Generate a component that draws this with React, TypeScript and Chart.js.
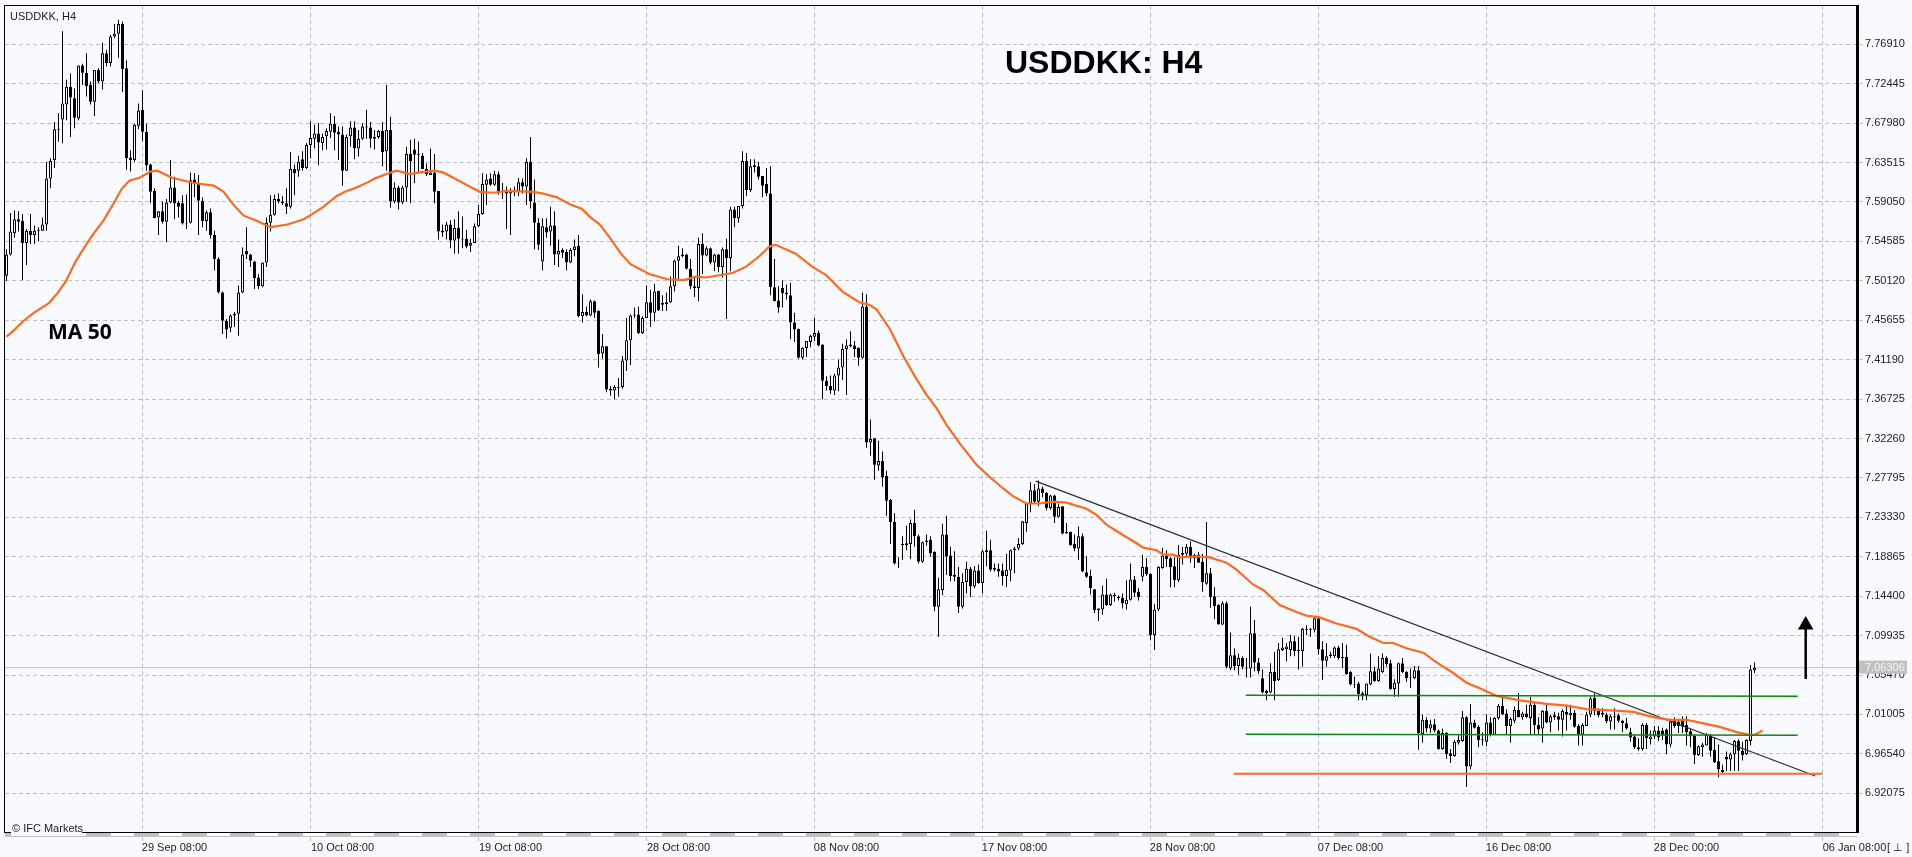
import { useEffect, useRef } from 'react';
import Chart from 'chart.js/auto';

// H4 candles, oldest first
const opens = [
  7.507,7.531,7.555,7.571,7.569,7.544,7.558,7.553,7.559,7.558,
  7.565,7.617,7.638,7.673,7.684,7.701,7.721,7.708,7.685,7.745,
  7.737,7.723,7.704,7.740,7.727,7.759,7.748,7.778,7.781,7.792,
  7.742,7.641,7.638,7.677,7.695,7.670,7.633,7.603,7.573,7.580,
  7.568,7.590,7.607,7.590,7.589,7.567,7.567,7.616,7.611,7.592,
  7.569,7.579,7.553,7.526,7.488,7.456,7.448,7.462,7.464,7.488,
  7.535,7.531,7.523,7.505,7.495,7.522,7.567,7.576,7.594,7.591,
  7.589,7.585,7.628,7.626,7.639,7.629,7.655,7.662,7.668,7.657,
  7.665,7.670,7.679,7.670,7.667,7.626,7.665,7.675,7.651,7.662,
  7.676,7.675,7.664,7.664,7.671,7.648,7.672,7.591,7.607,7.590,
  7.607,7.645,7.650,7.645,7.643,7.628,7.621,7.624,7.603,7.558,
  7.557,7.565,7.547,7.561,7.549,7.549,7.541,7.544,7.563,7.577,
  7.610,7.617,7.610,7.622,7.603,7.603,7.600,7.603,7.602,7.613,
  7.608,7.636,7.590,7.567,7.523,7.562,7.557,7.564,7.531,7.536,
  7.534,7.522,7.536,7.541,7.461,7.466,7.462,7.478,7.467,7.419,
  7.427,7.379,7.377,7.380,7.381,7.411,7.434,7.462,7.463,7.442,
  7.459,7.477,7.465,7.490,7.476,7.475,7.477,7.495,7.524,7.529,
  7.531,7.515,7.495,7.493,7.543,7.530,7.538,7.522,7.531,7.517,
  7.537,7.527,7.582,7.572,7.586,7.637,7.604,7.632,7.631,7.620,
  7.611,7.600,7.494,7.479,7.493,7.488,7.485,7.454,7.447,7.414,
  7.425,7.432,7.438,7.442,7.429,7.388,7.382,7.377,7.394,7.403,
  7.424,7.429,7.428,7.425,7.414,7.472,7.318,7.323,7.292,7.297,
  7.280,7.253,7.228,7.182,7.203,7.202,7.203,7.227,7.212,7.183,
  7.205,7.208,7.194,7.132,7.151,7.214,7.190,7.168,7.166,7.132,
  7.160,7.175,7.155,7.173,7.159,7.196,7.196,7.176,7.175,7.173,
  7.167,7.173,7.196,7.198,7.203,7.227,7.249,7.264,7.251,7.266,
  7.261,7.244,7.258,7.234,7.246,7.217,7.217,7.203,7.198,7.212,
  7.171,7.167,7.152,7.130,7.129,7.146,7.134,7.146,7.143,7.142,
  7.135,7.140,7.163,7.149,7.166,7.177,7.169,7.100,7.129,7.176,
  7.190,7.187,7.178,7.162,7.191,7.192,7.200,7.191,7.191,7.183,
  7.158,7.170,7.144,7.134,7.112,7.136,7.062,7.077,7.065,7.074,
  7.063,7.062,7.102,7.069,7.051,7.037,7.035,7.058,7.049,7.083,
  7.084,7.083,7.093,7.083,7.082,7.107,7.107,7.106,7.119,7.084,
  7.071,7.076,7.076,7.086,7.075,7.075,7.058,7.044,7.045,7.034,
  7.032,7.044,7.059,7.048,7.058,7.074,7.068,7.039,7.045,7.068,
  7.058,7.052,7.051,7.060,6.988,7.004,6.994,6.999,6.992,6.971,
  6.989,6.966,6.963,6.978,6.980,7.007,6.951,7.001,6.996,6.982,
  6.979,7.001,6.987,7.006,7.020,7.011,6.997,7.003,7.015,7.007,
  7.011,7.006,7.021,6.998,6.994,7.014,7.001,7.007,7.008,7.004,
  7.013,7.009,7.012,6.997,6.987,6.997,7.010,7.029,7.014,7.012,
  7.010,7.002,7.008,7.009,7.003,7.000,6.990,6.985,6.973,6.971,
  6.998,6.982,6.985,6.992,6.992,6.993,6.976,7.003,7.002,7.003,
  6.998,6.991,6.986,6.964,6.973,6.975,6.986,6.970,6.957,6.947,
  6.962,6.959,6.965,6.980,6.969,6.965,6.980,7.060,
];

const highs = [
  7.537,7.578,7.581,7.580,7.577,7.560,7.577,7.564,7.562,7.573,
  7.636,7.640,7.681,7.691,7.784,7.729,7.736,7.719,7.745,7.747,
  7.759,7.727,7.740,7.742,7.771,7.763,7.780,7.792,7.797,7.795,
  7.751,7.649,7.679,7.702,7.717,7.679,7.634,7.606,7.580,7.591,
  7.594,7.638,7.619,7.592,7.598,7.599,7.624,7.623,7.621,7.596,
  7.581,7.583,7.558,7.528,7.489,7.458,7.463,7.466,7.496,7.539,
  7.562,7.532,7.524,7.509,7.522,7.573,7.598,7.599,7.600,7.597,
  7.606,7.647,7.633,7.643,7.648,7.657,7.682,7.678,7.680,7.668,
  7.674,7.691,7.688,7.676,7.676,7.667,7.682,7.682,7.672,7.680,
  7.695,7.681,7.672,7.672,7.681,7.723,7.687,7.613,7.609,7.609,
  7.653,7.661,7.662,7.659,7.646,7.634,7.651,7.645,7.603,7.565,
  7.568,7.570,7.571,7.580,7.574,7.559,7.549,7.566,7.587,7.623,
  7.622,7.623,7.626,7.625,7.612,7.608,7.606,7.608,7.618,7.617,
  7.640,7.664,7.616,7.572,7.572,7.572,7.585,7.580,7.548,7.538,
  7.537,7.538,7.548,7.553,7.486,7.472,7.480,7.479,7.468,7.441,
  7.427,7.382,7.383,7.391,7.416,7.459,7.463,7.471,7.472,7.461,
  7.496,7.491,7.498,7.490,7.485,7.488,7.506,7.525,7.541,7.538,
  7.532,7.526,7.506,7.550,7.555,7.540,7.539,7.532,7.532,7.539,
  7.549,7.585,7.585,7.586,7.648,7.646,7.639,7.639,7.636,7.620,
  7.629,7.631,7.526,7.495,7.502,7.497,7.499,7.465,7.447,7.426,
  7.433,7.440,7.459,7.445,7.429,7.393,7.394,7.396,7.412,7.430,
  7.435,7.444,7.433,7.426,7.488,7.486,7.344,7.323,7.320,7.308,
  7.286,7.254,7.238,7.188,7.212,7.224,7.231,7.242,7.214,7.206,
  7.214,7.212,7.195,7.165,7.226,7.235,7.200,7.195,7.177,7.170,
  7.183,7.177,7.178,7.180,7.197,7.218,7.208,7.181,7.181,7.181,
  7.192,7.197,7.200,7.210,7.229,7.249,7.273,7.271,7.275,7.268,
  7.262,7.259,7.259,7.249,7.246,7.227,7.217,7.214,7.223,7.215,
  7.189,7.174,7.152,7.130,7.156,7.164,7.147,7.148,7.145,7.147,
  7.162,7.181,7.167,7.153,7.191,7.187,7.170,7.135,7.178,7.199,
  7.196,7.188,7.188,7.202,7.200,7.203,7.206,7.192,7.194,7.192,
  7.228,7.176,7.154,7.135,7.138,7.138,7.103,7.085,7.079,7.076,
  7.074,7.132,7.117,7.074,7.061,7.038,7.068,7.081,7.091,7.097,
  7.091,7.100,7.099,7.098,7.108,7.111,7.108,7.120,7.121,7.093,
  7.091,7.081,7.087,7.088,7.091,7.089,7.059,7.053,7.047,7.036,
  7.045,7.079,7.064,7.076,7.079,7.076,7.072,7.050,7.069,7.074,
  7.059,7.062,7.065,7.065,7.010,7.007,7.004,7.005,6.993,6.994,
  6.990,6.971,6.981,6.987,7.014,7.008,7.022,7.004,6.998,6.990,
  7.010,7.007,7.007,7.022,7.029,7.016,7.007,7.019,7.034,7.013,
  7.021,7.030,7.023,7.007,7.015,7.021,7.010,7.013,7.012,7.016,
  7.021,7.021,7.015,6.999,7.000,7.013,7.030,7.034,7.017,7.017,
  7.012,7.010,7.017,7.011,7.004,7.006,6.995,6.987,6.983,7.000,
  7.000,6.992,6.997,6.997,6.995,6.994,7.005,7.007,7.005,7.008,
  7.008,6.994,6.987,6.975,6.978,6.989,6.988,6.984,6.976,6.953,
  6.968,6.967,6.981,6.982,6.979,6.982,7.066,7.069,
];

const lows = [
  7.501,7.530,7.550,7.557,7.502,7.519,7.543,7.543,7.546,7.558,
  7.558,7.606,7.629,7.659,7.657,7.683,7.664,7.674,7.683,7.723,
  7.710,7.701,7.688,7.725,7.718,7.744,7.744,7.776,7.754,7.715,
  7.627,7.625,7.636,7.673,7.660,7.626,7.589,7.572,7.553,7.566,
  7.545,7.589,7.571,7.573,7.565,7.560,7.566,7.596,7.553,7.562,
  7.558,7.549,7.513,7.487,7.441,7.436,7.443,7.449,7.439,7.487,
  7.526,7.517,7.492,7.492,7.494,7.517,7.557,7.575,7.589,7.587,
  7.577,7.583,7.598,7.619,7.626,7.628,7.640,7.651,7.632,7.649,
  7.650,7.663,7.649,7.638,7.609,7.626,7.653,7.639,7.642,7.661,
  7.662,7.652,7.650,7.662,7.631,7.626,7.584,7.589,7.582,7.588,
  7.591,7.589,7.612,7.623,7.628,7.620,7.621,7.589,7.548,7.551,
  7.548,7.538,7.532,7.532,7.538,7.538,7.534,7.544,7.562,7.576,
  7.587,7.609,7.609,7.599,7.594,7.560,7.553,7.597,7.597,7.600,
  7.587,7.583,7.537,7.536,7.513,7.550,7.541,7.519,7.517,7.527,
  7.513,7.521,7.529,7.460,7.454,7.461,7.461,7.459,7.403,7.413,
  7.375,7.371,7.367,7.370,7.379,7.399,7.406,7.459,7.441,7.441,
  7.459,7.449,7.455,7.467,7.467,7.467,7.476,7.489,7.502,7.528,
  7.514,7.492,7.483,7.478,7.509,7.529,7.520,7.512,7.511,7.505,
  7.458,7.512,7.562,7.567,7.583,7.597,7.602,7.624,7.616,7.596,
  7.597,7.485,7.478,7.465,7.471,7.480,7.435,7.432,7.413,7.412,
  7.415,7.426,7.433,7.427,7.367,7.377,7.373,7.372,7.376,7.389,
  7.372,7.426,7.415,7.405,7.413,7.312,7.303,7.276,7.286,7.268,
  7.235,7.203,7.180,7.176,7.185,7.196,7.186,7.200,7.181,7.182,
  7.201,7.189,7.127,7.098,7.145,7.168,7.161,7.161,7.125,7.130,
  7.147,7.143,7.153,7.158,7.147,7.178,7.172,7.172,7.166,7.156,
  7.154,7.161,7.170,7.196,7.202,7.217,7.239,7.249,7.246,7.256,
  7.241,7.242,7.227,7.233,7.214,7.215,7.201,7.195,7.185,7.171,
  7.165,7.146,7.125,7.116,7.123,7.133,7.133,7.138,7.139,7.130,
  7.129,7.139,7.143,7.139,7.161,7.167,7.094,7.083,7.127,7.175,
  7.177,7.154,7.154,7.160,7.180,7.188,7.182,7.176,7.182,7.149,
  7.157,7.131,7.118,7.112,7.111,7.062,7.060,7.060,7.055,7.061,
  7.052,7.052,7.059,7.056,7.034,7.026,7.034,7.026,7.048,7.082,
  7.070,7.076,7.076,7.061,7.064,7.100,7.098,7.103,7.078,7.049,
  7.064,7.074,7.074,7.072,7.063,7.055,7.043,7.040,7.026,7.026,
  7.026,7.043,7.047,7.047,7.057,7.064,7.038,7.030,7.030,7.057,
  7.047,7.040,7.050,6.970,6.978,6.990,6.989,6.990,6.970,6.970,
  6.960,6.955,6.962,6.976,6.979,6.928,6.948,6.994,6.973,6.975,
  6.974,6.985,6.987,7.004,7.009,6.987,6.978,7.000,7.007,7.004,
  7.006,6.987,6.987,6.987,6.978,7.000,6.990,7.004,6.992,6.985,
  6.992,7.004,6.995,6.975,6.975,6.997,7.007,7.009,7.007,7.007,
  7.000,6.993,6.993,7.001,6.990,6.993,6.979,6.971,6.969,6.969,
  6.971,6.976,6.982,6.980,6.981,6.965,6.973,6.995,6.989,6.989,
  6.975,6.973,6.954,6.963,6.962,6.975,6.962,6.955,6.939,6.943,
  6.946,6.946,6.946,6.946,6.958,6.964,6.975,7.057,
];

const closes = [
  7.531,7.557,7.571,7.568,7.544,7.558,7.553,7.558,7.558,7.565,
  7.617,7.637,7.673,7.672,7.702,7.721,7.709,7.686,7.745,7.737,
  7.722,7.704,7.740,7.727,7.759,7.748,7.778,7.781,7.792,7.741,
  7.640,7.638,7.678,7.694,7.670,7.632,7.602,7.572,7.580,7.568,
  7.590,7.607,7.589,7.585,7.566,7.566,7.615,7.611,7.592,7.569,
  7.579,7.553,7.526,7.488,7.456,7.446,7.462,7.464,7.488,7.531,
  7.531,7.524,7.504,7.495,7.522,7.567,7.576,7.594,7.591,7.589,
  7.585,7.628,7.623,7.636,7.629,7.655,7.663,7.668,7.658,7.664,
  7.671,7.679,7.669,7.667,7.626,7.664,7.675,7.651,7.662,7.676,
  7.675,7.662,7.662,7.671,7.647,7.672,7.591,7.607,7.590,7.607,
  7.645,7.637,7.644,7.644,7.628,7.622,7.624,7.602,7.557,7.556,
  7.565,7.547,7.561,7.549,7.548,7.540,7.544,7.563,7.577,7.611,
  7.616,7.610,7.622,7.603,7.603,7.600,7.603,7.602,7.613,7.608,
  7.636,7.591,7.567,7.542,7.563,7.556,7.564,7.531,7.535,7.533,
  7.522,7.536,7.540,7.461,7.466,7.462,7.478,7.465,7.418,7.427,
  7.378,7.377,7.381,7.381,7.411,7.434,7.462,7.463,7.442,7.459,
  7.477,7.465,7.489,7.468,7.474,7.477,7.495,7.524,7.529,7.531,
  7.515,7.495,7.493,7.543,7.530,7.538,7.522,7.531,7.517,7.537,
  7.527,7.582,7.572,7.586,7.637,7.604,7.631,7.630,7.619,7.609,
  7.600,7.494,7.478,7.471,7.487,7.486,7.454,7.446,7.414,7.425,
  7.433,7.439,7.442,7.428,7.388,7.382,7.377,7.394,7.403,7.424,
  7.428,7.427,7.424,7.414,7.472,7.318,7.322,7.293,7.297,7.279,
  7.252,7.228,7.181,7.181,7.202,7.204,7.227,7.212,7.183,7.205,
  7.207,7.193,7.132,7.152,7.214,7.189,7.167,7.166,7.132,7.160,
  7.175,7.155,7.173,7.159,7.195,7.194,7.174,7.174,7.172,7.167,
  7.174,7.196,7.198,7.203,7.229,7.249,7.264,7.251,7.266,7.261,
  7.244,7.258,7.234,7.245,7.215,7.215,7.202,7.198,7.212,7.172,
  7.166,7.153,7.128,7.128,7.146,7.134,7.146,7.144,7.142,7.136,
  7.140,7.163,7.148,7.143,7.177,7.169,7.100,7.129,7.177,7.190,
  7.186,7.177,7.162,7.191,7.193,7.200,7.187,7.187,7.182,7.160,
  7.170,7.143,7.133,7.112,7.136,7.064,7.077,7.065,7.074,7.064,
  7.062,7.102,7.069,7.059,7.035,7.034,7.058,7.048,7.084,7.086,
  7.087,7.093,7.082,7.082,7.107,7.106,7.106,7.119,7.084,7.071,
  7.076,7.078,7.086,7.074,7.074,7.056,7.044,7.043,7.033,7.032,
  7.045,7.059,7.048,7.062,7.074,7.067,7.039,7.046,7.068,7.058,
  7.051,7.051,7.060,6.989,7.004,6.994,6.999,6.992,6.971,6.989,
  6.965,6.963,6.979,6.981,7.007,6.951,7.001,6.995,6.981,6.981,
  7.001,6.987,7.006,7.020,7.010,6.997,7.005,7.015,7.007,7.011,
  7.007,7.021,6.998,6.993,7.014,7.001,7.008,7.009,7.004,7.014,
  7.010,7.012,6.996,6.987,6.998,7.010,7.028,7.014,7.009,7.010,
  7.002,7.008,7.007,7.003,7.000,6.994,6.984,6.973,6.971,6.998,
  6.983,6.985,6.992,6.984,6.987,6.976,7.002,6.997,6.997,6.996,
  6.990,6.985,6.964,6.974,6.976,6.987,6.969,6.956,6.948,6.945,
  6.959,6.965,6.980,6.969,6.964,6.981,7.061,7.063,
];

// MA 50, read at the bars where it bends
const maBars = [
  0,1.8,4.3,6.8,10.6,12.7,14.75,17.25,19.75,21.8,24.3,26.8,28.9,30.8,33.3,36,37.7,41.4,46.8,51.8,54.3,56.8,59.3,62.7,66,70.2,74.3,
  75.8,79.2,82.5,84.6,87.5,90.4,92,95.5,97.5,100.8,103.3,107,109.2,112.5,115.8,118.3,121.7,125,131.7,134.2,137.5,140.8,143.8,145.8,148.3,
  150.7,153.6,156,160.7,165.25,169.4,172.3,174.8,181.5,184.8,188.2,190.7,192.3,197.3,201.5,204.8,209,213.2,215.7,
  217.5,220.8,224.2,227.1,230,232.5,235,238.3,242.5,245.8,249.2,251.7,255,258.3,261.7,265,270,272.5,275,279.2,282.5,
  284.2,287.5,289.2,291.7,293.3,297.5,300.8,305,307.5,311.7,314.2,318.3,322.5,325,328.3,332.5,337.5,340.8,344.2,346.7,350,354.2,
  357.5,361.7,365,369.2,372.5,378.3,385,390,395,403.3,406.7,411.7,415.8,420,424.2,428.3,432.5,435.8,437,438.3,439,
];
const maValues = [
  7.438,7.445,7.456,7.465,7.476,7.487,7.500,7.523,7.541,7.555,7.570,7.589,7.606,7.615,7.618,7.625,7.626,7.618,7.612,7.609,7.602,7.587,7.575,7.569,7.562,7.565,7.571,
  7.575,7.585,7.597,7.602,7.607,7.613,7.617,7.623,7.626,7.622,7.624,7.626,7.624,7.616,7.608,7.602,7.601,7.603,7.602,7.600,7.596,7.588,7.583,7.574,7.565,
  7.551,7.532,7.520,7.509,7.503,7.502,7.506,7.505,7.510,7.517,7.529,7.540,7.542,7.532,7.517,7.508,7.489,7.477,7.474,
  7.469,7.447,7.416,7.393,7.372,7.357,7.338,7.317,7.293,7.279,7.266,7.257,7.249,7.249,7.251,7.250,7.243,7.236,7.225,7.213,7.204,
  7.199,7.196,7.191,7.191,7.188,7.189,7.188,7.182,7.174,7.157,7.151,7.134,7.126,7.122,7.120,7.113,7.107,7.098,7.091,7.091,7.085,7.080,
  7.069,7.057,7.046,7.038,7.031,7.026,7.022,7.020,7.016,7.014,7.013,7.007,7.004,7.004,7.000,6.996,6.990,6.987,6.987,6.990,6.992,
];

// analyst drawings as [bar, price]
const trendLine = [[257.3, 7.2744], [452.2, 6.9404]];
const greenUpper = [[309.8, 7.0318], [447.8, 7.0306]];
const greenLower = [[309.8, 6.9876], [447.8, 6.9865]];
const supportLine = [[306.8, 6.943], [454, 6.943]];
const arrowLine = [[449.8, 7.0502], [449.8, 7.1114]];
const lastPrice = 7.06306;

const yTicks = [
  7.7691, 7.72445, 7.6798, 7.63515, 7.5905, 7.54585, 7.5012, 7.45655, 7.4119, 7.36725,
  7.3226, 7.27795, 7.2333, 7.18865, 7.144, 7.09935, 7.0547, 7.01005, 6.9654, 6.92075,
];
const xTickBars = [34, 76, 118, 160, 202, 244, 286, 328, 370, 412, 454];
const xTickLabels = [
  '29 Sep 08:00', '10 Oct 08:00', '19 Oct 08:00', '28 Oct 08:00', '08 Nov 08:00', '17 Nov 08:00',
  '28 Nov 08:00', '07 Dec 08:00', '16 Dec 08:00', '28 Dec 00:00', '06 Jan 08:00',
];

const BG = '#f8faff';
const AXIS_FONT = "'Liberation Sans', sans-serif";
const toPoints = (pts: number[][]) => pts.map(([x, y]) => ({ x, y }));

// stops tick labels from pushing the plot area inwards
const noLabelPadding = (axis: any) => {
  axis.paddingLeft = 0;
  axis.paddingRight = 0;
  axis.paddingTop = 0;
  axis.paddingBottom = 0;
};

// frame, strip under the time axis, price tag and the chart's captions
const frame = {
  id: 'frame',
  beforeDraw(chart: Chart) {
    const { ctx, width, height } = chart;
    ctx.save();
    ctx.fillStyle = BG;
    ctx.fillRect(0, 0, width, height);
    ctx.restore();
  },
  afterDraw(chart: Chart) {
    const { ctx, chartArea: a, scales } = chart;
    ctx.save();
    ctx.fillStyle = '#fff';
    ctx.fillRect(a.left, a.bottom + 1, a.width, 3);
    ctx.fillStyle = '#c0c0c0';
    for (let x = -10; x < a.right; x += 48) {
      const l = Math.max(x, a.left);
      ctx.fillRect(l, a.bottom + 1, x + 25 - l, 3);
    }
    ctx.fillRect(a.left, a.bottom + 4, a.width, 1);

    ctx.fillStyle = '#000';
    ctx.fillRect(a.left - 1, a.top - 1, a.width + 1, 1);
    ctx.fillRect(a.left - 1, a.top - 1, 1, a.height + 1);
    ctx.fillRect(a.left - 1, a.bottom, a.width + 1, 1);
    ctx.fillRect(a.right - 1, a.top - 1, 3, a.height + 2);

    // last price tag sits over the axis labels
    const py = scales.y.getPixelForValue(lastPrice);
    ctx.fillStyle = '#c0c0c0';
    ctx.fillRect(a.right + 2, py - 7, 48, 13);
    ctx.fillStyle = '#f4f4f4';
    ctx.font = `11px ${AXIS_FONT}`;
    ctx.textBaseline = 'middle';
    ctx.fillText(lastPrice.toFixed(5), a.right + 8, py);

    ctx.fillStyle = '#1a1a2e';
    ctx.fillText('USDDKK, H4', 10, 17);
    ctx.fillStyle = BG;
    ctx.fillRect(11, 823, 71, 13);
    ctx.fillStyle = '#1a1a2e';
    ctx.fillText('© IFC Markets', 12, 829);
    ctx.fillStyle = '#222';
    ctx.fillText('[ ⊥ ]', 1887, 848);

    ctx.fillStyle = '#000';
    ctx.font = "bold 32px 'Liberation Sans', sans-serif";
    ctx.fillText('USDDKK: H4', 1005, 64);
    ctx.font = "bold 21px 'Noto Sans', sans-serif";
    ctx.fillText('MA 50', 48, 333);
    ctx.restore();
  },
};

const App = () => {
  const chartRef = useRef<HTMLCanvasElement | null>(null);

  useEffect(() => {
    if (!chartRef.current) return;
    const isUp = (i: number) => closes[i] >= opens[i];

    const chart = new Chart(chartRef.current, {
      type: 'bar',
      data: {
        datasets: [
          {
            type: 'line',
            data: toPoints([[-1, lastPrice], [463, lastPrice]]),
            borderColor: '#c0c0c0',
            borderWidth: 1,
            pointRadius: 0,
            order: 9,
          },
          {
            data: highs.map((h, i) => ({ x: i, y: [lows[i], h] })),
            backgroundColor: '#000',
            barThickness: 1,
            inflateAmount: 0,
            grouped: false,
            order: 8,
          },
          {
            data: opens.map((o, i) => ({ x: i, y: [o, closes[i]] })),
            backgroundColor: opens.map((_, i) => (isUp(i) ? BG : '#000')),
            borderColor: '#000',
            borderWidth: 1,
            borderSkipped: false,
            barThickness: 3,
            inflateAmount: 0,
            grouped: false,
            order: 7,
          },
          {
            type: 'line',
            data: maBars.map((x, i) => ({ x, y: maValues[i] })),
            borderColor: '#ff6a1f',
            borderWidth: 2.2,
            pointRadius: 0,
            order: 4,
          },
          {
            type: 'line',
            data: toPoints(trendLine),
            borderColor: '#2a2a38',
            borderWidth: 1.2,
            pointRadius: 0,
            order: 5,
          },
          {
            type: 'line',
            data: toPoints(greenUpper),
            borderColor: '#0a8a0a',
            borderWidth: 1.4,
            pointRadius: 0,
            order: 3,
          },
          {
            type: 'line',
            data: toPoints(greenLower),
            borderColor: '#0a8a0a',
            borderWidth: 1.4,
            pointRadius: 0,
            order: 3,
          },
          {
            type: 'line',
            data: toPoints(supportLine),
            borderColor: '#ff6a1f',
            borderWidth: 2,
            pointRadius: 0,
            order: 2,
          },
          {
            type: 'line',
            data: toPoints(arrowLine),
            borderColor: '#000',
            borderWidth: 2.5,
            pointStyle: 'triangle',
            pointRadius: [0, 9],
            pointBackgroundColor: '#000',
            pointBorderWidth: 0,
            order: 1,
          },
        ],
      },
      options: {
        animation: false,
        responsive: false,
        devicePixelRatio: 1,
        events: [],
        layout: { autoPadding: false, padding: { left: 5, top: 6, right: 0, bottom: 0 } },
        plugins: { legend: { display: false }, tooltip: { enabled: false } },
        scales: {
          x: {
            type: 'linear',
            offset: false,
            min: -0.375,
            max: 462.625,
            afterBuildTicks: (axis) => {
              axis.ticks = xTickBars.map((value) => ({ value }));
            },
            afterFit: (axis) => {
              axis.height = 25;
              noLabelPadding(axis);
            },
            border: { display: false, dash: [4, 3] },
            grid: { color: '#c0c0c0', tickLength: 9, lineWidth: 1, offset: false },
            ticks: {
              autoSkip: false,
              maxRotation: 0,
              labelOffset: 32,
              padding: 0,
              color: '#222',
              font: { family: AXIS_FONT, size: 11 },
              callback: (value) => xTickLabels[xTickBars.indexOf(Number(value))],
            },
          },
          y: {
            position: 'right',
            min: 6.8769,
            max: 7.8125,
            afterBuildTicks: (axis) => {
              axis.ticks = yTicks.map((value) => ({ value }));
            },
            afterFit: (axis) => {
              axis.width = 55;
              noLabelPadding(axis);
            },
            border: { display: false, dash: [4, 3] },
            grid: { color: '#c0c0c0', tickLength: 6, lineWidth: 1 },
            ticks: {
              autoSkip: false,
              padding: 2,
              color: '#222',
              font: { family: AXIS_FONT, size: 11 },
              callback: (value) => Number(value).toFixed(5),
            },
          },
        },
      },
      plugins: [frame],
    });

    return () => chart.destroy();
  }, []);

  return (
    <div style={{ position: 'fixed', left: 0, top: 0, width: 1912, height: 857, background: BG }}>
      <canvas ref={chartRef} width={1912} height={857} style={{ display: 'block' }}></canvas>
    </div>
  );
};

export default App;
